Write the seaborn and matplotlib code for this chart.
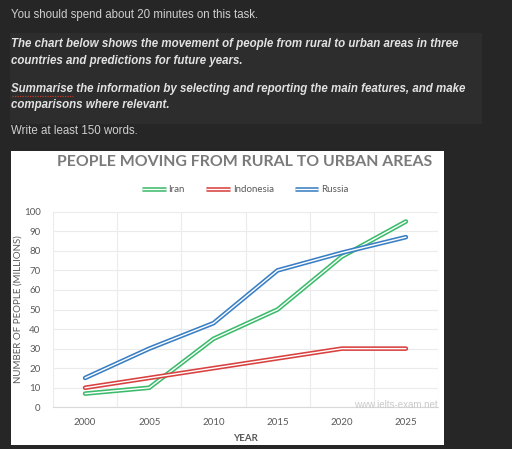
import matplotlib
matplotlib.use("Agg")
import matplotlib.pyplot as plt
import matplotlib.patheffects as pe
from matplotlib.patches import Rectangle
from matplotlib.lines import Line2D
import seaborn as sns
import pandas as pd
import numpy as np

years = [2000, 2005, 2010, 2015, 2020, 2025]
iran = [7, 10, 35, 50, 77, 95]
indonesia = [10, 15, 20, 25, 30, 30]
russia = [15, 30, 43, 70, 79, 87]
countries = ["Iran", "Indonesia", "Russia"]
colors = {"Iran": "#3dbb6c", "Indonesia": "#d8413f", "Russia": "#3a7fc4"}
yticks = list(range(0, 101, 10))

df = pd.DataFrame({
    "year": years * 3,
    "value": iran + indonesia + russia,
    "country": ["Iran"] * 6 + ["Indonesia"] * 6 + ["Russia"] * 6,
})

sns.set_theme(style="white")
plt.rcParams["font.family"] = ["Lato", "DejaVu Sans"]

W, H = 512, 449
fig = plt.figure(figsize=(W / 100, H / 100), dpi=100, facecolor="#262626")

def fx(px):
    return px / W

def fy(py):
    return 1 - py / H

# instruction text block
fig.patches.append(Rectangle((fx(10), fy(124)), fx(472), (124 - 33) / H,
                             transform=fig.transFigure, facecolor="#2d2d2d",
                             edgecolor="none", zorder=-2))
tfam = ["Liberation Sans", "DejaVu Sans"]
fs = 8.3
fig.text(fx(11), fy(15), "You should spend about 20 minutes on this task.",
         family=tfam, fontsize=fs, color="#cfcfcf", va="center", ha="left")
for yy, s in [(44, "The chart below shows the movement of people from rural to urban areas in three"),
              (61, "countries and predictions for future years."),
              (89, "Summarise the information by selecting and reporting the main features, and make"),
              (105, "comparisons where relevant.")]:
    fig.text(fx(11), fy(yy), s, family=tfam, fontsize=fs, color="#e2e2e2", va="center",
             ha="left", fontweight="bold", style="italic")
fig.lines.append(Line2D([fx(12), fx(73)], [fy(96), fy(96)], transform=fig.transFigure,
                        color="#c0392b", lw=0.9, ls=(0, (1, 1))))
fig.text(fx(11), fy(131), "Write at least 150 words.",
         family=tfam, fontsize=fs, color="#cfcfcf", va="center", ha="left")

# white chart panel
fig.patches.append(Rectangle((fx(11), fy(445)), fx(433), (445 - 151) / H,
                             transform=fig.transFigure, facecolor="white",
                             edgecolor="none", zorder=-2))

ax = fig.add_axes([fx(53), fy(407.3), fx(385), (407.3 - 211.7) / H])
ax.set_zorder(2)
ax.set_facecolor("white")

sns.lineplot(data=df, x="year", y="value", hue="country", hue_order=countries,
             palette=colors, lw=3.3, ax=ax, legend=False)
for line, c in zip(ax.lines, countries):
    line.set_color("white")
    line.set_linewidth(1.0)
    line.set_path_effects([pe.Stroke(linewidth=3.3, foreground=colors[c]), pe.Normal()])
    line.set_solid_joinstyle("miter")

ax.set_xlim(1997.5, 2027.5)
ax.set_ylim(0, 100)
ax.set_xticks(years)
ax.set_xticks(np.arange(1997.5, 2028, 5), minor=True)
ax.set_yticks(yticks)
ax.grid(False)
ax.grid(True, which="minor", axis="x", color="#ebebeb", lw=0.8)
ax.grid(True, which="major", axis="y", color="#ebebeb", lw=0.8)
ax.set_axisbelow(True)
for s in ["top", "right", "left"]:
    ax.spines[s].set_visible(False)
ax.spines["bottom"].set_color("#d9d9d9")
ax.spines["bottom"].set_linewidth(0.8)
ax.tick_params(axis="both", which="both", length=0, labelsize=7, labelcolor="#595959")
ax.tick_params(axis="y", pad=9)
ax.tick_params(axis="x", pad=8)
ax.set_xlabel("YEAR", fontsize=7, fontweight="bold", color="#595959", labelpad=5)
ax.set_ylabel("NUMBER OF PEOPLE (MILLIONS)", fontsize=7, color="#595959")
ax.yaxis.set_label_coords(-(53 - 23) / 385, 0.5)

handles = []
for c in countries:
    h = Line2D([0], [0], color="white", lw=1.0, solid_capstyle="butt",
               path_effects=[pe.Stroke(linewidth=3.3, foreground=colors[c], capstyle="butt"),
                             pe.Normal()])
    handles.append(h)
leg = ax.legend(handles, countries, loc="center", bbox_to_anchor=(0.5, 1 + 21.7 / 195.6),
                ncol=3, frameon=False, fontsize=7, handlelength=2.4, handletextpad=0.3,
                columnspacing=2.2, labelcolor="#595959")

fig.text(fx(245), fy(162), "PEOPLE MOVING FROM RURAL TO URBAN AREAS", ha="center", va="center",
         fontsize=11.4, fontweight="bold", color="#7a7a7a", zorder=3)

ax.text(1.0, (407.3 - 405) / 195.6, "www.ielts-exam.net", transform=ax.transAxes, ha="right",
        va="center", family=tfam, fontsize=7, color="#c9c9c9")

fig.savefig("out.png", dpi=100, facecolor=fig.get_facecolor())
